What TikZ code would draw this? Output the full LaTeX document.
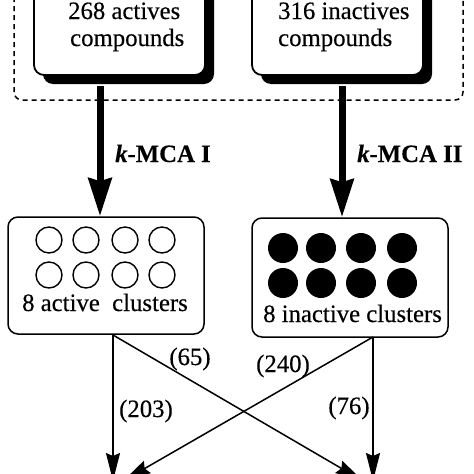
\documentclass[tikz,border=0pt]{standalone}
\usepackage{fontspec}
\setmainfont{Liberation Serif}[FakeStretch=0.99, FakeBold=0.3]
\usetikzlibrary{arrows.meta,shadows}
\begin{document}
\begin{tikzpicture}[x=1pt,y=-1pt,
  every node/.style={font=\fontsize{25}{27}\selectfont, inner sep=0pt},
  topbox/.style={draw, line width=1.8pt, rounded corners=10pt, fill=white,
    minimum width=171pt, minimum height=135pt,
    drop shadow={shadow xshift=9pt, shadow yshift=-9pt, fill=black, opacity=1}},
  clbox/.style={draw, line width=1.5pt, rounded corners=10pt, minimum width=196pt},
  bigarrow/.style={line width=7pt, -{Stealth[length=38pt,width=23pt,inset=3pt]}},
  thinarrow/.style={line width=1.5pt, -{Stealth[length=28pt,width=14pt,inset=3pt]}},
  opencl/.style={circle, draw, line width=1.4pt, minimum size=26pt},
  fillcl/.style={circle, fill=black, minimum size=30pt},
  lbl/.style={anchor=base west}
]
\useasboundingbox (0,0) rectangle (474,474);
\clip (0,0) rectangle (474,474);
\fill[white] (0,0) rectangle (474,474);

% dashed container
\draw[line width=1.5pt, dash pattern=on 5pt off 4pt, rounded corners=8pt] (14,-20) rectangle (463,100);

% top boxes
\node[topbox] (tL) at (119.5,7.5) {};
\node[topbox] (tR) at (337.5,7.5) {};
\node[anchor=base west] (tLa) at (68,19) {268 actives};
\node[anchor=base west] (tLb) at (70,46) {compounds};
\node[anchor=base west] (tRa) at (278,19) {316 inactives};
\node[anchor=base west] (tRb) at (278,46) {compounds};

% cluster boxes
\node[clbox, minimum height=117pt] (cL) at (106,275.5) {};
\node[clbox, minimum height=119pt] (cR) at (350,277.5) {};

% circles
\foreach \x [count=\i] in {49,86,125,162}{
  \node[opencl] (oa\i) at (\x,240) {};
  \node[opencl] (ob\i) at (\x,275) {};
}
\foreach \x [count=\i] in {283,321,361,402}{
  \node[fillcl] (fa\i) at (\x,248) {};
  \node[fillcl] (fb\i) at (\x,283) {};
}
\node[lbl] (cLt) at (22,311) {8 active\ \ clusters};
\node[lbl] (cRt) at (263,322) {8 inactive clusters};

% thick arrows
\coordinate (sL) at (100,86);
\coordinate (sR) at (342,86);
\draw[bigarrow] (sL) -- (sL |- cL.north);
\draw[bigarrow] (sR) -- (sR |- cR.north);
\node[lbl] (mL) at (115,162) {\textbf{\textit{k}-MCA I}};
\node[lbl] (mR) at (357,162) {\textbf{\textit{k}-MCA II}};

% bottom arrows
\coordinate (oL) at (113,335);
\coordinate (oR) at (373,337);
\coordinate (eLL) at (113,481);
\coordinate (eRR) at (373,481);
\coordinate (eLR) at (363,481);
\coordinate (eRL) at (123,481);
\draw[thinarrow] (oL) -- (eLL);
\draw[thinarrow] (oR) -- (eRR);
\draw[thinarrow] (oL) -- (eLR);
\draw[thinarrow] (oR) -- (eRL);

\node (n65) at (190,359) {(65)};
\node (n240) at (283,366) {(240)};
\node (n203) at (146,411) {(203)};
\node (n76) at (349,408) {(76)};
\end{tikzpicture}
\end{document}
